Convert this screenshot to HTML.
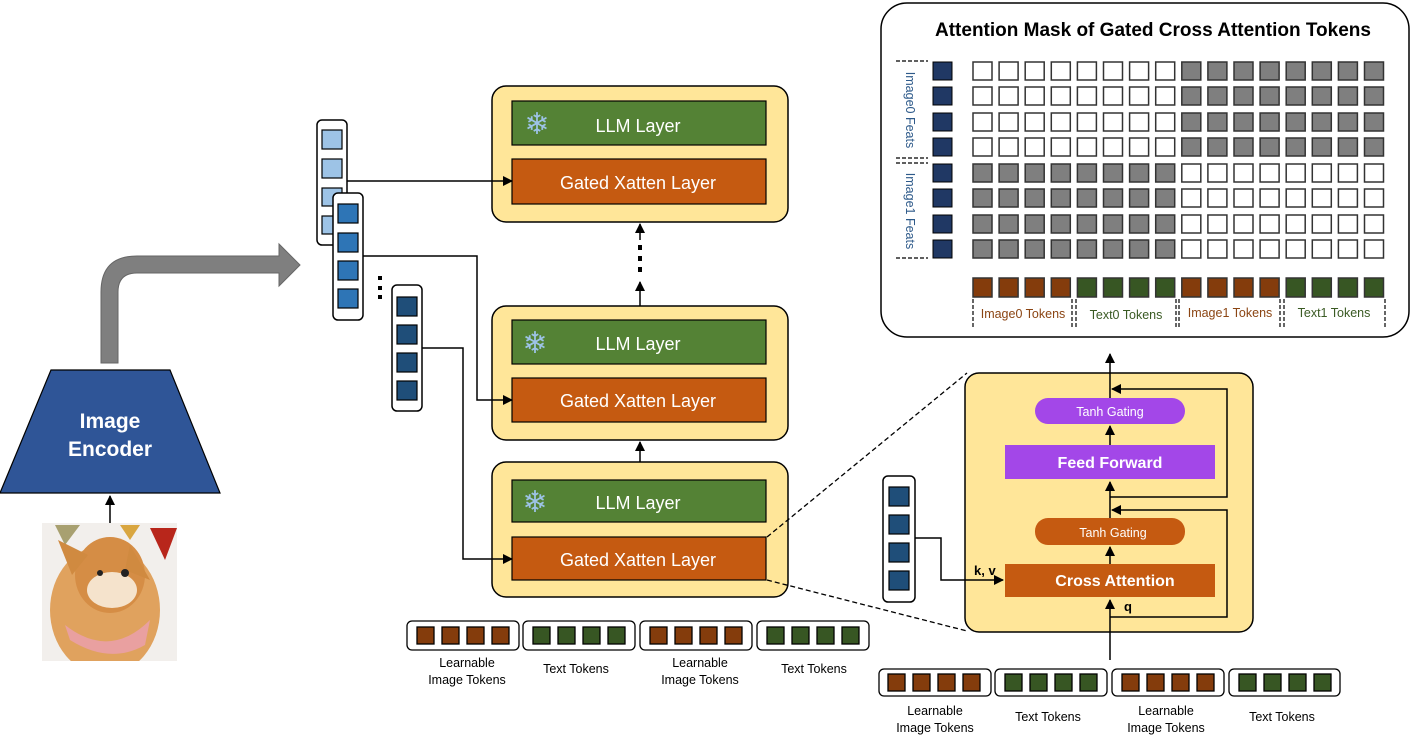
<!DOCTYPE html>
<html><head><meta charset="utf-8"><style>
html,body{margin:0;padding:0;background:#fff;}
svg{display:block;font-family:"Liberation Sans","DejaVu Sans",sans-serif;}
</style></head><body>
<svg width="1416" height="735" viewBox="0 0 1416 735" xmlns="http://www.w3.org/2000/svg">
<defs>
<marker id="ah" markerWidth="10" markerHeight="10" refX="9" refY="5" orient="auto" markerUnits="userSpaceOnUse"><path d="M0,0 L10,5 L0,10 z" fill="#000"/></marker>
<clipPath id="dogc"><rect x="42" y="523" width="135" height="138"/></clipPath>
</defs>

<!-- Dog image -->
<g clip-path="url(#dogc)">
<rect x="42" y="523" width="135" height="138" fill="#f2efec"/>
<polygon points="55,525 80,525 65,545" fill="#a8a070"/>
<polygon points="120,525 140,525 130,540" fill="#d9a640"/>
<polygon points="150,528 177,528 165,560" fill="#b8261b"/>
<ellipse cx="105" cy="610" rx="55" ry="65" fill="#e0a25e"/>
<ellipse cx="110" cy="575" rx="35" ry="38" fill="#d58d45"/>
<polygon points="58,540 72,575 88,555" fill="#d08a40"/>
<polygon points="130,545 150,580 125,570" fill="#d08a40"/>
<ellipse cx="112" cy="590" rx="25" ry="18" fill="#f5e3cc"/>
<circle cx="100" cy="573" r="3" fill="#222"/>
<circle cx="125" cy="573" r="4" fill="#222"/>
<path d="M65,625 Q110,660 150,620 L145,645 Q110,665 70,640 z" fill="#e9a0a0"/>
</g>

<line x1="110" y1="523" x2="110" y2="496" stroke="#000" stroke-width="1.5" marker-end="url(#ah)"/>

<!-- Image encoder -->
<polygon points="51,370 170,370 220,493 0,493" fill="#2f5597" stroke="#000" stroke-width="1.2"/>
<text x="110" y="428" fill="#fff" font-size="21" font-weight="bold" text-anchor="middle">Image</text>
<text x="110" y="456" fill="#fff" font-size="21" font-weight="bold" text-anchor="middle">Encoder</text>

<!-- Gray curved arrow -->
<path d="M101,363 L101,292 Q101,256 137,256 L279,256 L279,244 L300,265 L279,286 L279,273 L137,273 Q118,273 118,292 L118,363 z" fill="#7f7f7f" stroke="#666" stroke-width="1"/>

<!-- Feature columns -->
<rect x="317" y="120" width="30" height="125" rx="5" fill="#fff" stroke="#000" stroke-width="1.5"/>
<g fill="#9dc3e6" stroke="#000" stroke-width="1.2">
<rect x="322" y="130" width="20" height="19"/><rect x="322" y="159" width="20" height="19"/><rect x="322" y="188" width="20" height="18"/><rect x="322" y="216" width="20" height="18"/>
</g>
<rect x="333" y="193" width="30" height="127" rx="5" fill="#fff" stroke="#000" stroke-width="1.5"/>
<g fill="#2e75b6" stroke="#000" stroke-width="1.2">
<rect x="338" y="204" width="20" height="19"/><rect x="338" y="233" width="20" height="19"/><rect x="338" y="261" width="20" height="19"/><rect x="338" y="289" width="20" height="19"/>
</g>
<g fill="#000"><rect x="378" y="276" width="4" height="4"/><rect x="378" y="286" width="4" height="4"/><rect x="378" y="295" width="4" height="4"/></g>
<rect x="392" y="285" width="30" height="126" rx="5" fill="#fff" stroke="#000" stroke-width="1.5"/>
<g fill="#1f4e79" stroke="#000" stroke-width="1.2">
<rect x="397" y="297" width="20" height="19"/><rect x="397" y="325" width="20" height="19"/><rect x="397" y="353" width="20" height="19"/><rect x="397" y="381" width="20" height="19"/>
</g>

<!-- Layer boxes -->
<g>
<rect x="492" y="86" width="296" height="136" rx="14" fill="#ffe699" stroke="#000" stroke-width="1.5"/>
<rect x="512" y="101" width="254" height="44" fill="#548235" stroke="#000" stroke-width="1.2"/>
<rect x="512" y="159" width="254" height="45" fill="#c55a11" stroke="#000" stroke-width="1.2"/>
<text x="537" y="134" fill="#9dc3e6" font-size="30" text-anchor="middle">❄</text>
<text x="638" y="132" fill="#fff" font-size="18" text-anchor="middle">LLM Layer</text>
<text x="638" y="189" fill="#fff" font-size="18" text-anchor="middle">Gated Xatten Layer</text>

<rect x="492" y="306" width="296" height="134" rx="14" fill="#ffe699" stroke="#000" stroke-width="1.5"/>
<rect x="512" y="320" width="254" height="44" fill="#548235" stroke="#000" stroke-width="1.2"/>
<rect x="512" y="378" width="254" height="44" fill="#c55a11" stroke="#000" stroke-width="1.2"/>
<text x="535" y="353" fill="#9dc3e6" font-size="30" text-anchor="middle">❄</text>
<text x="638" y="350" fill="#fff" font-size="18" text-anchor="middle">LLM Layer</text>
<text x="638" y="407" fill="#fff" font-size="18" text-anchor="middle">Gated Xatten Layer</text>

<rect x="492" y="462" width="296" height="135" rx="14" fill="#ffe699" stroke="#000" stroke-width="1.5"/>
<rect x="512" y="480" width="254" height="42" fill="#548235" stroke="#000" stroke-width="1.2"/>
<rect x="512" y="537" width="254" height="43" fill="#c55a11" stroke="#000" stroke-width="1.2"/>
<text x="535" y="512" fill="#9dc3e6" font-size="30" text-anchor="middle">❄</text>
<text x="638" y="509" fill="#fff" font-size="18" text-anchor="middle">LLM Layer</text>
<text x="638" y="566" fill="#fff" font-size="18" text-anchor="middle">Gated Xatten Layer</text>
</g>

<!-- connectors (after boxes so arrowheads show) -->
<g fill="none" stroke="#000" stroke-width="1.5">
<polyline points="347,181 512,181" marker-end="url(#ah)"/>
<polyline points="363,256 477,256 477,400 512,400" marker-end="url(#ah)"/>
<polyline points="422,348 463,348 463,559 512,559" marker-end="url(#ah)"/>
<line x1="640" y1="462" x2="640" y2="442" marker-end="url(#ah)"/>
<line x1="640" y1="306" x2="640" y2="282" marker-end="url(#ah)"/>
<line x1="640" y1="240" x2="640" y2="224" marker-end="url(#ah)"/>
</g>
<g fill="#000"><rect x="638" y="245" width="4" height="5"/><rect x="638" y="256" width="4" height="5"/><rect x="638" y="267" width="4" height="5"/></g>

<!-- middle token groups -->
<g stroke="#000" stroke-width="1.3">
<rect x="407" y="621" width="112" height="29" rx="5" fill="#fff"/>
<rect x="523" y="621" width="112" height="29" rx="5" fill="#fff"/>
<rect x="640" y="621" width="112" height="29" rx="5" fill="#fff"/>
<rect x="757" y="621" width="112" height="29" rx="5" fill="#fff"/>
<g fill="#843c0c"><rect x="417" y="627" width="17" height="17"/><rect x="442" y="627" width="17" height="17"/><rect x="467" y="627" width="17" height="17"/><rect x="492" y="627" width="17" height="17"/>
<rect x="650" y="627" width="17" height="17"/><rect x="675" y="627" width="17" height="17"/><rect x="700" y="627" width="17" height="17"/><rect x="725" y="627" width="17" height="17"/></g>
<g fill="#375623"><rect x="533" y="627" width="17" height="17"/><rect x="558" y="627" width="17" height="17"/><rect x="583" y="627" width="17" height="17"/><rect x="608" y="627" width="17" height="17"/>
<rect x="767" y="627" width="17" height="17"/><rect x="792" y="627" width="17" height="17"/><rect x="817" y="627" width="17" height="17"/><rect x="842" y="627" width="17" height="17"/></g>
</g>
<g font-size="12.5" text-anchor="middle" fill="#000">
<text x="467" y="667">Learnable</text><text x="467" y="684">Image Tokens</text>
<text x="576" y="673">Text Tokens</text>
<text x="700" y="667">Learnable</text><text x="700" y="684">Image Tokens</text>
<text x="814" y="673">Text Tokens</text>
</g>

<!-- dashed zoom lines -->
<line x1="767" y1="537" x2="967" y2="373" stroke="#000" stroke-width="1.3" stroke-dasharray="5,3"/>
<line x1="767" y1="580" x2="967" y2="631" stroke="#000" stroke-width="1.3" stroke-dasharray="5,3"/>

<!-- Detail box -->
<rect x="965" y="373" width="288" height="259" rx="14" fill="#ffe699" stroke="#000" stroke-width="1.5"/>
<g fill="none" stroke="#000" stroke-width="1.5">
<line x1="1110" y1="660" x2="1110" y2="600" marker-end="url(#ah)"/>
<polyline points="1110,617 1227,617 1227,510 1112,510" marker-end="url(#ah)"/>
<line x1="1110" y1="564" x2="1110" y2="547" marker-end="url(#ah)"/>
<line x1="1110" y1="518" x2="1110" y2="482" marker-end="url(#ah)"/>
<polyline points="1110,497 1227,497 1227,389 1112,389" marker-end="url(#ah)"/>
<line x1="1110" y1="445" x2="1110" y2="426" marker-end="url(#ah)"/>
<line x1="1110" y1="398" x2="1110" y2="354" marker-end="url(#ah)"/>
<polyline points="915,538 941,538 941,580 1003,580" marker-end="url(#ah)"/>
</g>
<rect x="1035" y="398" width="150" height="26" rx="13" fill="#a347e8"/>
<text x="1110" y="416" fill="#fff" font-size="12.5" text-anchor="middle">Tanh Gating</text>
<rect x="1005" y="445" width="210" height="34" fill="#a347e8"/>
<text x="1110" y="468" fill="#fff" font-size="16" font-weight="bold" text-anchor="middle">Feed Forward</text>
<rect x="1035" y="518" width="150" height="27" rx="13" fill="#c55a11"/>
<text x="1113" y="537" fill="#fff" font-size="12.5" text-anchor="middle">Tanh Gating</text>
<rect x="1005" y="564" width="210" height="33" fill="#c55a11"/>
<text x="1115" y="586" fill="#fff" font-size="16" font-weight="bold" text-anchor="middle">Cross Attention</text>
<text x="974" y="575" font-size="13" font-weight="bold">k, v</text>
<text x="1124" y="611" font-size="13" font-weight="bold">q</text>

<rect x="883" y="476" width="32" height="126" rx="5" fill="#fff" stroke="#000" stroke-width="1.5"/>
<g fill="#1f4e79" stroke="#000" stroke-width="1.2">
<rect x="889" y="487" width="20" height="19"/><rect x="889" y="515" width="20" height="19"/><rect x="889" y="543" width="20" height="19"/><rect x="889" y="571" width="20" height="19"/>
</g>

<!-- right token groups -->
<g stroke="#000" stroke-width="1.3">
<rect x="879" y="669" width="112" height="27" rx="5" fill="#fff"/>
<rect x="995" y="669" width="112" height="27" rx="5" fill="#fff"/>
<rect x="1112" y="669" width="112" height="27" rx="5" fill="#fff"/>
<rect x="1229" y="669" width="111" height="27" rx="5" fill="#fff"/>
<g fill="#843c0c"><rect x="888" y="674" width="17" height="17"/><rect x="913" y="674" width="17" height="17"/><rect x="938" y="674" width="17" height="17"/><rect x="963" y="674" width="17" height="17"/>
<rect x="1122" y="674" width="17" height="17"/><rect x="1147" y="674" width="17" height="17"/><rect x="1172" y="674" width="17" height="17"/><rect x="1197" y="674" width="17" height="17"/></g>
<g fill="#375623"><rect x="1005" y="674" width="17" height="17"/><rect x="1030" y="674" width="17" height="17"/><rect x="1055" y="674" width="17" height="17"/><rect x="1080" y="674" width="17" height="17"/>
<rect x="1239" y="674" width="17" height="17"/><rect x="1264" y="674" width="17" height="17"/><rect x="1289" y="674" width="17" height="17"/><rect x="1314" y="674" width="17" height="17"/></g>
</g>
<g font-size="12.5" text-anchor="middle" fill="#000">
<text x="935" y="715">Learnable</text><text x="935" y="732">Image Tokens</text>
<text x="1048" y="721">Text Tokens</text>
<text x="1166" y="715">Learnable</text><text x="1166" y="732">Image Tokens</text>
<text x="1282" y="721">Text Tokens</text>
</g>

<!-- Attention mask panel -->
<rect x="881" y="3" width="528" height="334" rx="26" fill="#fff" stroke="#000" stroke-width="1.5"/>
<text x="1153" y="36" font-size="19" font-weight="bold" text-anchor="middle">Attention Mask of Gated Cross Attention Tokens</text>
<g id="grid" stroke="#333" stroke-width="1.5"></g>
<g fill="#203864" stroke="#000" stroke-width="1">
<rect x="933" y="62" width="19" height="18"/><rect x="933" y="87" width="19" height="18"/><rect x="933" y="113" width="19" height="18"/><rect x="933" y="138" width="19" height="18"/>
<rect x="933" y="164" width="19" height="18"/><rect x="933" y="189" width="19" height="18"/><rect x="933" y="215" width="19" height="18"/><rect x="933" y="240" width="19" height="18"/>
</g>
<g stroke="#000" stroke-width="1.3" stroke-dasharray="4,2">
<line x1="896" y1="61" x2="928" y2="61"/><line x1="896" y1="158" x2="928" y2="158"/>
<line x1="896" y1="163" x2="928" y2="163"/><line x1="896" y1="258" x2="928" y2="258"/>
</g>
<text transform="translate(906,110) rotate(90)" font-size="12.5" fill="#2e5a8a" text-anchor="middle">Image0 Feats</text>
<text transform="translate(906,211) rotate(90)" font-size="12.5" fill="#2e5a8a" text-anchor="middle">Image1 Feats</text>
<g stroke="#000" stroke-width="1.2" stroke-dasharray="4,2">
<line x1="973" y1="299" x2="973" y2="328"/><line x1="1072" y1="299" x2="1072" y2="328"/><line x1="1076" y1="299" x2="1076" y2="328"/>
<line x1="1176" y1="299" x2="1176" y2="328"/><line x1="1179" y1="299" x2="1179" y2="328"/><line x1="1280" y1="299" x2="1280" y2="328"/>
<line x1="1284" y1="299" x2="1284" y2="328"/><line x1="1385" y1="299" x2="1385" y2="328"/>
</g>
<g font-size="12.5" text-anchor="middle">
<text x="1023" y="318" fill="#8b4513">Image0 Tokens</text>
<text x="1126" y="319" fill="#3a5a23">Text0 Tokens</text>
<text x="1230" y="317" fill="#8b4513">Image1 Tokens</text>
<text x="1334" y="317" fill="#3a5a23">Text1 Tokens</text>
</g>
<script>
(function(){
var g=document.getElementById('grid'),ns='http://www.w3.org/2000/svg';
var ys=[62,87,113,138,164,189,215,240];
for(var c=0;c<16;c++){
 var x=973+c*26.1;
 for(var r=0;r<8;r++){
  var e=document.createElementNS(ns,'rect');
  e.setAttribute('x',x.toFixed(1));e.setAttribute('y',ys[r]);e.setAttribute('width',19);e.setAttribute('height',18);
  var gray=(r<4)?(c>=8):(c<8);
  e.setAttribute('fill',gray?'#7f7f7f':'#fff');
  g.appendChild(e);
 }
 var t=document.createElementNS(ns,'rect');
 t.setAttribute('x',x.toFixed(1));t.setAttribute('y',278);t.setAttribute('width',19);t.setAttribute('height',19);
 t.setAttribute('fill',(c<4||(c>=8&&c<12))?'#843c0c':'#375623');
 g.appendChild(t);
}
})();
</script>
</svg>
</body></html>
